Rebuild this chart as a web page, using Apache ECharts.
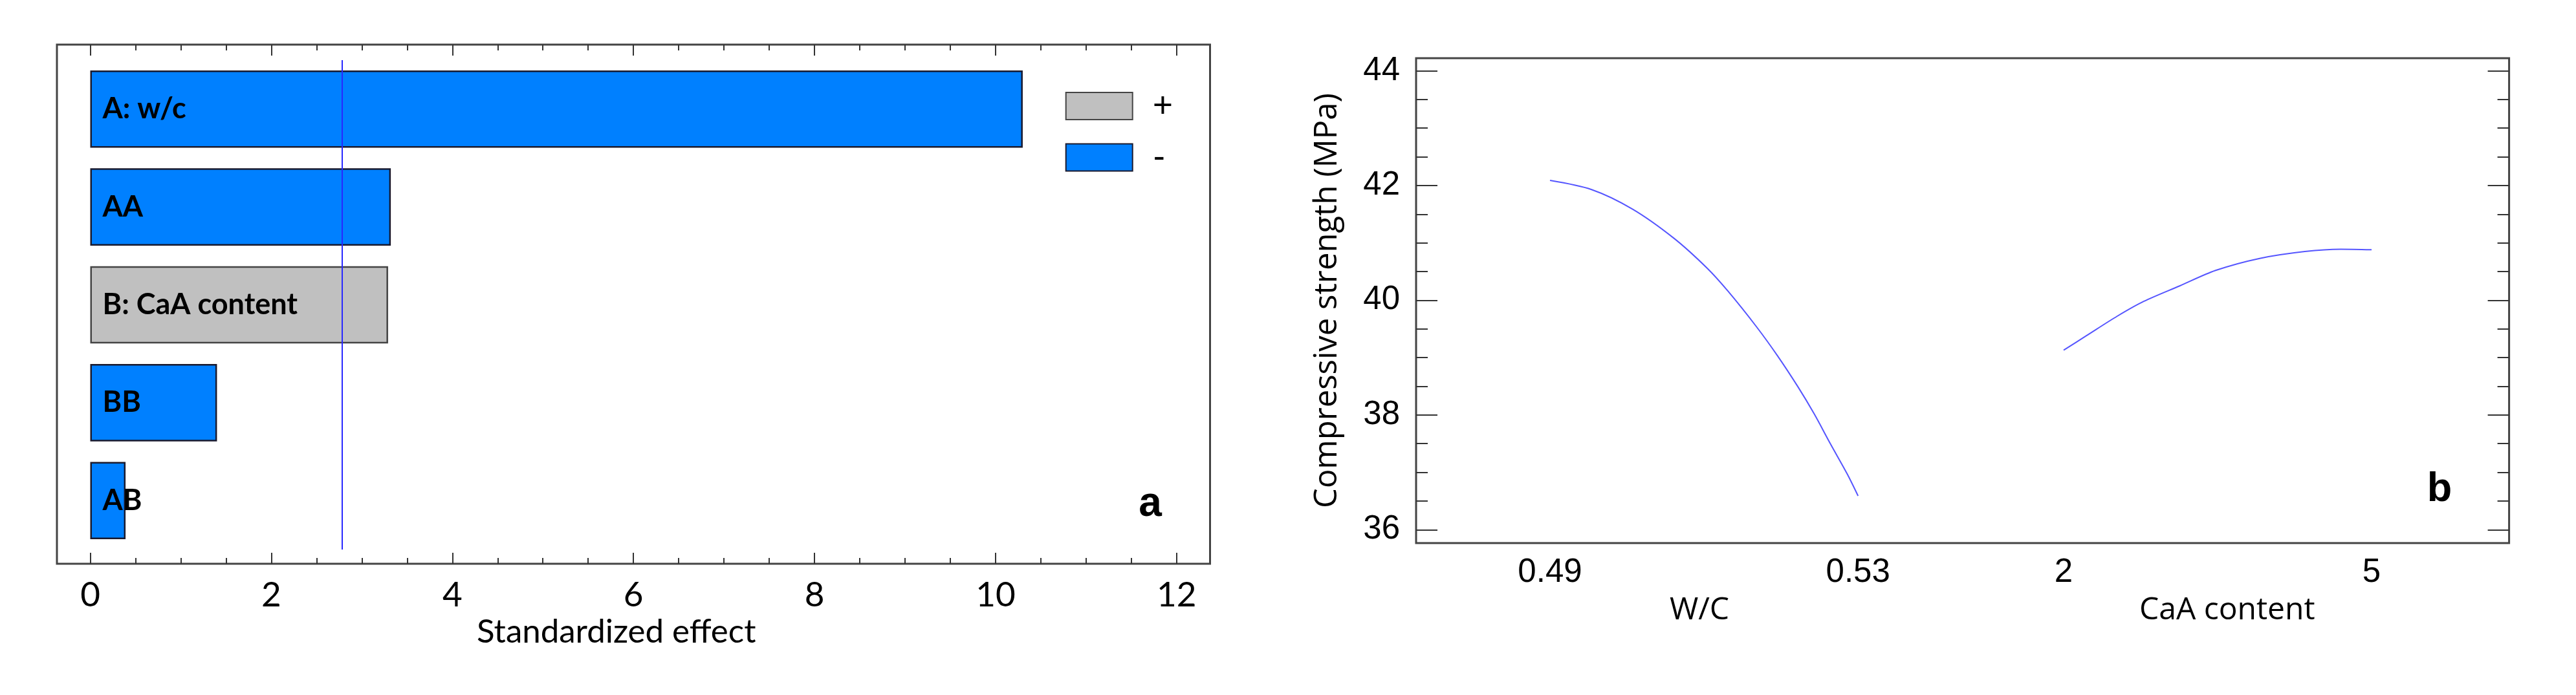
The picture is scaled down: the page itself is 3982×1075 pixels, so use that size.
<!DOCTYPE html>
<html>
<head>
<meta charset="utf-8">
<script src="https://cdn.jsdelivr.net/npm/echarts@6/dist/echarts.min.js"></script>
<style>
  html, body { margin: 0; padding: 0; background: #fff; }
  #main { width: 3982px; height: 1075px; }
</style>
</head>
<body>
<div id="main"></div>
<script>
// ---------- data (panel a: Pareto chart of standardized effects) ----------
const categories = ['A: w/c', 'AA', 'B: CaA content', 'BB', 'AB'];
const effects = [10.30, 3.32, 3.29, 1.40, 0.39];
const signs = ['-', '-', '+', '-', '-'];
const criticalEffect = 2.78;
const effectMajorTicks = [0, 2, 4, 6, 8, 10, 12];
const effectMinorTicks = [0.5, 1, 1.5, 2.5, 3, 3.5, 4.5, 5, 5.5, 6.5, 7, 7.5, 8.5, 9, 9.5, 10.5, 11, 11.5];

// ---------- data (panel b: main effects on compressive strength) ----------
const strengthMajorTicks = [36, 38, 40, 42, 44];
const strengthMinorTicks = [36.5, 37, 37.5, 38.5, 39, 39.5, 40.5, 41, 41.5, 42.5, 43, 43.5];
const wcTicks = [0.49, 0.53];
const caaTicks = [2, 5];
const wcX = [0.490, 0.4954, 0.5007, 0.5061, 0.5104, 0.5131, 0.5168, 0.5195, 0.5222, 0.5243, 0.5264, 0.5286, 0.530];
const wcY = [42.09, 41.93, 41.59, 41.08, 40.56, 40.16, 39.54, 39.04, 38.49, 38.02, 37.50, 36.97, 36.59];
const caaX = [2.0, 2.22, 2.52, 2.78, 3.13, 3.48, 3.91, 4.35, 4.70, 5.0];
const caaY = [39.13, 39.38, 39.72, 39.98, 40.25, 40.52, 40.73, 40.85, 40.89, 40.88];

// ---------- build ----------
const plusData = effects.map((v, i) => signs[i] === '+' ? v : null);
const minusData = effects.map((v, i) => signs[i] === '-' ? v : null);
const wcData = wcX.map((x, i) => [x, wcY[i]]);
const caaData = caaX.map((x, i) => [x, caaY[i]]);

const FRAME = '#444';
const TICK = '#333';
const effMin = -0.368, effMax = 12.369;
const strMin = 35.767, strMax = 44.22;

function tickAxisX(grid, pos, values, len, extra) {
  return Object.assign({
    gridIndex: grid, type: 'value', position: pos, min: effMin, max: effMax,
    axisLine: { show: false, onZero: false },
    axisTick: { show: true, inside: true, length: len, customValues: values, lineStyle: { color: TICK, width: 2 } },
    axisLabel: { show: false },
    splitLine: { show: false }
  }, extra || {});
}
function tickAxisY(grid, pos, values, len, extra) {
  return Object.assign({
    gridIndex: grid, type: 'value', position: pos, min: strMin, max: strMax,
    axisLine: { show: false, onZero: false },
    axisTick: { show: true, inside: true, length: len, customValues: values, lineStyle: { color: TICK, width: 2 } },
    axisLabel: { show: false },
    splitLine: { show: false }
  }, extra || {});
}

const barLabel = {
  show: true, position: 'insideLeft', distance: 19, formatter: '{b}',
  color: '#000', fontFamily: 'Lato', fontWeight: 'bold', fontSize: 45
};

const option = {
  animation: false,
  backgroundColor: '#fff',
  grid: [
    { left: 88, top: 69, width: 1782.5, height: 803, show: true, borderColor: FRAME, borderWidth: 3, backgroundColor: 'transparent' },
    { left: 88, top: 93, width: 1782.5, height: 757 },
    { left: 2189, top: 90, width: 1689.6, height: 750, show: true, borderColor: FRAME, borderWidth: 3, backgroundColor: 'transparent' },
    { left: 2189, top: 90, width: 876, height: 750 },
    { left: 3007, top: 90, width: 871.6, height: 750 }
  ],
  legend: {
    data: ['+', '-'], orient: 'vertical', left: 1646.7, top: 136.9, padding: 0,
    itemWidth: 103, itemHeight: 42, itemGap: 25.5, icon: 'rect', selectedMode: false,
    textStyle: { fontFamily: 'Lato', fontSize: 54, color: '#000', lineHeight: 42, padding: [0, 0, 0, 26] }
  },
  xAxis: [
    tickAxisX(0, 'bottom', effectMajorTicks, 17, {
      axisLabel: { show: true, customValues: effectMajorTicks, margin: 22, fontFamily: 'Lato', fontSize: 53, color: '#000' },
      name: 'Standardized effect', nameLocation: 'middle', nameGap: 67,
      nameTextStyle: { fontFamily: 'Lato', fontSize: 51, color: '#000', padding: [0, 53, 0, 0] }
    }),
    tickAxisX(0, 'bottom', effectMinorTicks, 9),
    tickAxisX(0, 'top', effectMajorTicks, 17),
    tickAxisX(0, 'top', effectMinorTicks, 9),
    { gridIndex: 1, type: 'value', min: effMin, max: effMax, show: false, axisLine: { onZero: false } },
    { gridIndex: 2, type: 'value', min: 0, max: 1, show: false, axisLine: { onZero: false } },
    {
      gridIndex: 3, type: 'value', position: 'bottom', min: 0.472612, max: 0.546195,
      axisLine: { show: false, onZero: false }, axisTick: { show: false }, splitLine: { show: false },
      axisLabel: { customValues: wcTicks, margin: 20, fontFamily: 'Liberation Sans', fontSize: 51, color: '#000' },
      name: 'W/C', nameLocation: 'middle', nameGap: 80,
      nameTextStyle: { fontFamily: 'Open Sans', fontSize: 48, color: '#000' }
    },
    {
      gridIndex: 4, type: 'value', position: 'bottom', min: 0.84666, max: 6.33983,
      axisLine: { show: false, onZero: false }, axisTick: { show: false }, splitLine: { show: false },
      axisLabel: { customValues: caaTicks, margin: 20, fontFamily: 'Liberation Sans', fontSize: 51, color: '#000' },
      name: 'CaA content', nameLocation: 'middle', nameGap: 80,
      nameTextStyle: { fontFamily: 'Open Sans', fontSize: 48, color: '#000' }
    }
  ],
  yAxis: [
    { gridIndex: 0, type: 'value', min: 0, max: 1, show: false, axisLine: { onZero: false } },
    { gridIndex: 1, type: 'category', data: categories, inverse: true, show: false, axisLine: { onZero: false } },
    tickAxisY(2, 'left', strengthMajorTicks, 33, {
      axisLabel: { show: true, customValues: strengthMajorTicks, margin: 25, fontFamily: 'Liberation Sans', fontSize: 51, color: '#000' },
      name: 'Compressive strength (MPa)', nameLocation: 'middle', nameGap: 112,
      nameTextStyle: { fontFamily: 'Open Sans', fontSize: 49, color: '#000' }
    }),
    tickAxisY(2, 'left', strengthMinorTicks, 18),
    tickAxisY(2, 'right', strengthMajorTicks, 33),
    tickAxisY(2, 'right', strengthMinorTicks, 18),
    { gridIndex: 3, type: 'value', min: strMin, max: strMax, show: false, axisLine: { onZero: false } },
    { gridIndex: 4, type: 'value', min: strMin, max: strMax, show: false, axisLine: { onZero: false } }
  ],
  series: [
    {
      name: '+', type: 'bar', xAxisIndex: 4, yAxisIndex: 1, data: plusData,
      barWidth: '79%', barGap: '-100%',
      itemStyle: { color: '#c0c0c0', borderColor: '#444', borderWidth: 2.5 },
      label: barLabel
    },
    {
      name: '-', type: 'bar', xAxisIndex: 4, yAxisIndex: 1, data: minusData,
      barWidth: '79%', barGap: '-100%',
      itemStyle: { color: '#0080ff', borderColor: '#1a1a2e', borderWidth: 2.5 },
      label: barLabel,
      markLine: {
        silent: true, symbol: 'none', label: { show: false },
        lineStyle: { color: '#2828ff', width: 2, type: 'solid' },
        data: [{ xAxis: criticalEffect }]
      }
    },
    {
      name: 'W/C effect', type: 'line', xAxisIndex: 6, yAxisIndex: 6, data: wcData,
      smooth: 0.3, showSymbol: false, lineStyle: { color: '#5555ff', width: 2 }
    },
    {
      name: 'CaA effect', type: 'line', xAxisIndex: 7, yAxisIndex: 7, data: caaData,
      smooth: 0.3, showSymbol: false, lineStyle: { color: '#5555ff', width: 2 }
    }
  ],
  graphic: [
    { type: 'text', x: 1778, y: 780, style: { text: 'a', fill: '#000', font: 'bold 64px "Liberation Sans"', align: 'center', verticalAlign: 'middle', textAlign: 'center', textVerticalAlign: 'middle' } },
    { type: 'text', x: 3771, y: 758, style: { text: 'b', fill: '#000', font: 'bold 63px "Liberation Sans"', align: 'center', verticalAlign: 'middle', textAlign: 'center', textVerticalAlign: 'middle' } }
  ]
};

const chart = echarts.init(document.getElementById('main'), null, { renderer: 'canvas' });
chart.setOption(option);
</script>
</body>
</html>
